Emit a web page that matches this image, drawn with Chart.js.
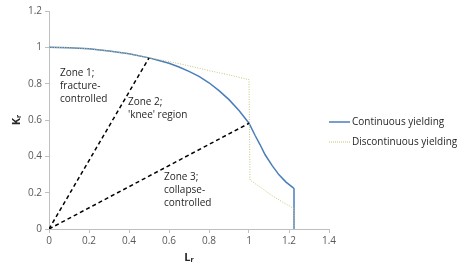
<!DOCTYPE html>
<html>
<head>
<meta charset="utf-8">
<script src="https://cdn.jsdelivr.net/npm/chart.js@4.4.1/dist/chart.umd.min.js"></script>
<style>
  html, body { margin: 0; padding: 0; background: #ffffff; overflow: hidden; }
  #fad { display: block; }
</style>
</head>
<body>
<canvas id="fad" width="474" height="276"></canvas>
<script>
// values
const contLr = [0, 0.1, 0.2, 0.3, 0.4, 0.5, 0.55, 0.6, 0.65, 0.7, 0.75, 0.8, 0.85, 0.9, 0.95, 1.0,
  1.03, 1.055, 1.08, 1.115, 1.15, 1.185, 1.22, 1.225, 1.225];
const contKr = [1, 0.998, 0.992, 0.98, 0.965, 0.942, 0.928, 0.912, 0.892, 0.868, 0.84, 0.805, 0.762, 0.712, 0.652, 0.582,
  0.516, 0.465, 0.41, 0.35, 0.298, 0.258, 0.228, 0.222, 0];

const discLr = [0, 0.1, 0.2, 0.3, 0.4, 0.5, 0.6, 0.7, 0.8, 0.9, 1.0, 1.005, 1.03, 1.06, 1.1, 1.15, 1.2, 1.225, 1.225];
const discKr = [1, 0.998, 0.992, 0.98, 0.965, 0.943, 0.922, 0.898, 0.872, 0.848, 0.822, 0.27, 0.25, 0.228, 0.195, 0.16, 0.128, 0.112, 0];

const kneeLr = [0, 0.5];
const kneeKr = [0, 0.942];
const collLr = [0, 1.0];
const collKr = [0, 0.582];

const legendNames = ["Continuous yielding", "Discontinuous yielding"];
const zoneLabels = [
  { x: 0.055, y: 0.86, lines: ["Zone 1;", "fracture-", "controlled"] },
  { x: 0.395, y: 0.70, lines: ["Zone 2;", "'knee' region"] },
  { x: 0.575, y: 0.285, lines: ["Zone 3;", "collapse-", "controlled"] }
];

function pts(xs, ys) {
  return xs.map((x, i) => ({ x: x, y: ys[i] }));
}

const blue = "#4a7ebb";
const olive = "#c9c27a";
const fontFam = "'Open Sans', 'Noto Sans', sans-serif";

const overlay = {
  id: "overlay",
  afterDraw(chart) {
    const ctx = chart.ctx;
    const xs = chart.scales.x, ys = chart.scales.y;
    ctx.save();
    ctx.font = "10px " + fontFam;
    ctx.fillStyle = "#262626";
    ctx.textBaseline = "middle";
    ctx.textAlign = "left";
    zoneLabels.forEach(z => {
      const px = xs.getPixelForValue(z.x);
      const py = ys.getPixelForValue(z.y);
      z.lines.forEach((t, i) => ctx.fillText(t, px, py + i * 13));
    });
    // legend
    const lx = 329, ly = [122, 142];
    ctx.lineWidth = 1.5;
    ctx.strokeStyle = blue;
    ctx.beginPath();
    ctx.moveTo(lx, ly[0]);
    ctx.lineTo(lx + 21, ly[0]);
    ctx.stroke();
    ctx.lineWidth = 1;
    ctx.strokeStyle = olive;
    ctx.setLineDash([1, 1]);
    ctx.beginPath();
    ctx.moveTo(lx, ly[1]);
    ctx.lineTo(lx + 21, ly[1]);
    ctx.stroke();
    ctx.setLineDash([]);
    legendNames.forEach((n, i) => ctx.fillText(n, lx + 23, ly[i]));
    ctx.restore();
  }
};

new Chart(document.getElementById("fad"), {
  type: "scatter",
  data: {
    datasets: [
      {
        label: "knee",
        data: pts(kneeLr, kneeKr),
        showLine: true,
        borderColor: "#000000",
        borderWidth: 1.5,
        borderDash: [4, 3],
        pointRadius: 0
      },
      {
        label: "collapse",
        data: pts(collLr, collKr),
        showLine: true,
        borderColor: "#000000",
        borderWidth: 1.5,
        borderDash: [4, 3],
        pointRadius: 0
      },
      {
        label: legendNames[1],
        data: pts(discLr, discKr),
        showLine: true,
        borderColor: olive,
        borderWidth: 1,
        borderDash: [1, 1.5],
        pointRadius: 0
      },
      {
        label: legendNames[0],
        data: pts(contLr, contKr),
        showLine: true,
        borderColor: blue,
        borderWidth: 1.5,
        pointRadius: 0
      }
    ]
  },
  options: {
    responsive: false,
    animation: false,
    layout: { padding: { left: 0, top: 11, right: 145, bottom: 0 } },
    plugins: {
      legend: { display: false },
      tooltip: { enabled: false }
    },
    scales: {
      x: {
        type: "linear",
        min: 0,
        max: 1.4,
        ticks: {
          stepSize: 0.2,
          maxRotation: 0,
          color: "#595959",
          font: { family: fontFam, size: 10 },
          padding: 2,
          callback: v => +v.toFixed(1)
        },
        grid: { drawOnChartArea: false, drawTicks: true, tickLength: 4, color: "#bfbfbf" },
        border: { color: "#bfbfbf" },
        title: {
          display: true,
          text: "Lᵣ",
          color: "#262626",
          font: { family: fontFam, size: 11, weight: "bold" },
          padding: { top: 0, bottom: 12 }
        },
        afterFit(s) { s.height = 47; }
      },
      y: {
        min: 0,
        max: 1.2,
        ticks: {
          stepSize: 0.2,
          color: "#595959",
          font: { family: fontFam, size: 10 },
          padding: 3,
          callback: v => +v.toFixed(1)
        },
        grid: { drawOnChartArea: false, drawTicks: true, tickLength: 4, color: "#bfbfbf" },
        border: { color: "#bfbfbf" },
        title: {
          display: true,
          text: "Kᵣ",
          color: "#262626",
          font: { family: fontFam, size: 11, weight: "bold" },
          padding: { top: 10, bottom: 0 }
        },
        afterFit(s) { s.width = 49; }
      }
    }
  },
  plugins: [overlay]
});
</script>
</body>
</html>
